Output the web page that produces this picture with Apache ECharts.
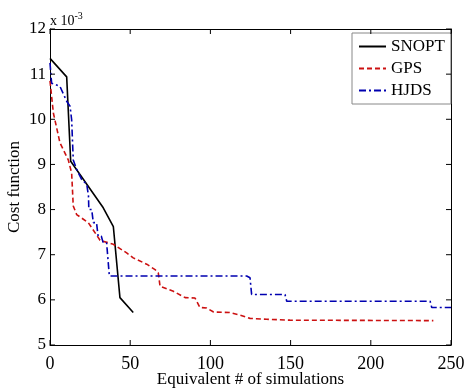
<!DOCTYPE html>
<html><head><meta charset="utf-8">
<script src="https://cdn.jsdelivr.net/npm/echarts@6/dist/echarts.min.js"></script>
<style>html,body{margin:0;padding:0;background:#fff}#c{width:474px;height:389px}#e{position:absolute;left:0;top:0;font-size:10px;color:#f0f}</style>
</head><body><div id="c"></div><div id="e"></div>
<script>
const seriesNames = ['SNOPT', 'GPS', 'HJDS'];
const xTicks = [0, 50, 100, 150, 200, 250];
const yTicks = [5, 6, 7, 8, 9, 10, 11, 12];
const snoptX = [0, 10.4, 12.9, 33.2, 39.5, 43.6, 51.9];
const snoptY = [11.35, 10.94, 9.07, 8.04, 7.62, 6.05, 5.72];
const gpsX = [0, 2.1, 6.2, 11.4, 13.5, 14.5, 16.6, 23.9, 31.2, 39.5, 47.8, 51.9, 60.3, 65.5, 67.5, 68.6, 76.9, 84.2, 90.4, 93.5, 97.7, 102, 112, 118.5, 124.7, 135, 149.6, 239];
const gpsY = [10.85, 10.14, 9.48, 9.1, 8.81, 8.08, 7.89, 7.71, 7.32, 7.23, 7.04, 6.93, 6.79, 6.67, 6.6, 6.3, 6.19, 6.05, 6.04, 5.83, 5.82, 5.73, 5.72, 5.66, 5.59, 5.57, 5.55, 5.54];
const hjdsX = [0, 1, 6.2, 10.4, 12.5, 13.5, 14.5, 16.6, 19.7, 22.9, 24, 24.2, 26, 27, 29, 30, 32, 33.2, 35.3, 37, 122.6, 124.7, 125.7, 146.5, 147.6, 237, 238, 250];
const hjdsY = [11.25, 10.8, 10.73, 10.4, 10.29, 9.99, 9.1, 8.89, 8.67, 8.56, 8.3, 8.0, 8.0, 7.71, 7.71, 7.41, 7.41, 7.26, 7.26, 6.53, 6.53, 6.49, 6.12, 6.12, 5.97, 5.97, 5.83, 5.83];

try {
const zip = (xs, ys) => xs.map((x, i) => [x, ys[i]]);
const F = 'Liberation Serif';
const X0 = xTicks[0], X1 = xTicks[xTicks.length - 1];
const Y0 = yTicks[0], Y1 = yTicks[yTicks.length - 1];
const TL = 5;
const chart = echarts.init(document.getElementById('c'), null, {renderer: 'canvas'});
const mkAxis = () => ({
  show: true,
  axisLine: {show: true, onZero: false, lineStyle: {color: '#000', width: 1}},
  axisTick: {show: false},
  splitLine: {show: false}
});
const tickStyle = {stroke: '#000', lineWidth: 1};
chart.setOption({
  animation: false,
  backgroundColor: '#fff',
  grid: {left: 50, right: 23, top: 29, bottom: 44, containLabel: false, outerBoundsMode: 'none', show: false},
  xAxis: [
    Object.assign({type: 'value', min: X0, max: X1, interval: 50, position: 'bottom',
      name: 'Equivalent # of simulations', nameLocation: 'middle', nameGap: 26, nameMoveOverlap: false,
      nameTextStyle: {fontFamily: F, fontSize: 17, color: '#000'},
      axisLabel: {fontFamily: F, fontSize: 18, color: '#000', margin: 10,
        formatter: v => xTicks.includes(v) ? String(v) : ''}}, mkAxis()),
    Object.assign({type: 'value', min: X0, max: X1, interval: 50, position: 'top',
      axisLabel: {show: false}}, mkAxis())
  ],
  yAxis: [
    Object.assign({type: 'value', min: Y0, max: Y1, interval: 1, position: 'left',
      name: 'Cost function', nameLocation: 'middle', nameGap: 27, nameMoveOverlap: false,
      nameTextStyle: {fontFamily: F, fontSize: 17, color: '#000'},
      axisLabel: {fontFamily: F, fontSize: 17, color: '#000', margin: 4,
        formatter: v => yTicks.includes(v) ? String(v) : ''}}, mkAxis()),
    Object.assign({type: 'value', min: Y0, max: Y1, interval: 1, position: 'right',
      axisLabel: {show: false}}, mkAxis())
  ],
  legend: {
    show: true,
    orient: 'vertical', left: 352, top: 33,
    backgroundColor: '#fff', borderColor: '#888', borderWidth: 1,
    padding: [5, 6, 5, 6], itemGap: 5, itemWidth: 27, itemHeight: 10,
    itemStyle: {opacity: 0},
    textStyle: {fontFamily: F, fontSize: 17, color: '#000'},
    data: seriesNames
  },
  graphic: [{
    type: 'text', left: 50, top: 11,
    style: {
      text: '{a|x 10}{b|-3}',
      rich: {
        a: {fontFamily: F, fontSize: 14, color: '#000', verticalAlign: 'bottom'},
        b: {fontFamily: F, fontSize: 10, color: '#000', verticalAlign: 'top', padding: [0, 0, 7, 0]}
      }
    }
  }],
  series: [
    {name: 'SNOPT', type: 'line', xAxisIndex: 0, yAxisIndex: 0, showSymbol: false, symbol: 'none',
      data: zip(snoptX, snoptY), lineStyle: {color: '#000', width: 1.6, type: 'solid'}, itemStyle: {color: '#000'}},
    {name: 'GPS', type: 'line', xAxisIndex: 0, yAxisIndex: 0, showSymbol: false, symbol: 'none',
      data: zip(gpsX, gpsY), lineStyle: {color: '#cc1111', width: 1.6, type: [5, 3]}, itemStyle: {color: '#cc1111'}},
    {name: 'HJDS', type: 'line', xAxisIndex: 0, yAxisIndex: 0, showSymbol: false, symbol: 'none',
      data: zip(hjdsX, hjdsY), lineStyle: {color: '#0000b0', width: 1.6, type: [7, 3, 2, 3]}, itemStyle: {color: '#0000b0'}},
    {name: 'xticks', type: 'custom', xAxisIndex: 0, yAxisIndex: 0, silent: true, clip: false, z: 10,
      data: xTicks.map(v => [v]),
      encode: {x: 0},
      renderItem: (params, api) => {
        const v = api.value(0);
        const b = api.coord([v, Y0]), t = api.coord([v, Y1]);
        return {type: 'group', children: [
          {type: 'line', shape: {x1: b[0], y1: b[1], x2: b[0], y2: b[1] - TL}, style: tickStyle},
          {type: 'line', shape: {x1: t[0], y1: t[1], x2: t[0], y2: t[1] + TL}, style: tickStyle}
        ]};
      }},
    {name: 'yticks', type: 'custom', xAxisIndex: 0, yAxisIndex: 0, silent: true, clip: false, z: 10,
      data: yTicks.map(v => [X0, v]),
      encode: {x: 0, y: 1},
      renderItem: (params, api) => {
        const v = api.value(1);
        const l = api.coord([X0, v]), r = api.coord([X1, v]);
        return {type: 'group', children: [
          {type: 'line', shape: {x1: l[0], y1: l[1], x2: l[0] + TL, y2: l[1]}, style: tickStyle},
          {type: 'line', shape: {x1: r[0], y1: r[1], x2: r[0] - TL, y2: r[1]}, style: tickStyle}
        ]};
      }}
  ]
});
} catch (err) { document.getElementById('e').textContent = String(err && err.stack || err); }
</script></body></html>
